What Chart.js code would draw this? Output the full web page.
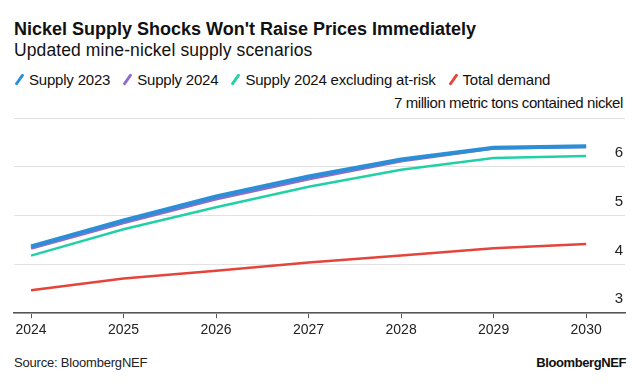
<!DOCTYPE html>
<html>
<head>
<meta charset="utf-8">
<script src="https://cdn.jsdelivr.net/npm/chart.js@4"></script>
<style>
  html, body { margin: 0; padding: 0; background: #fff; }
  body { width: 640px; height: 386px; position: relative; overflow: hidden; font-family: "Liberation Sans", Arial, sans-serif; color: #111; }
  .title { position: absolute; left: 14px; top: 19px; font-size: 18px; font-weight: bold; letter-spacing: 0px; }
  .sub { position: absolute; left: 14px; top: 40px; font-size: 17.5px; letter-spacing: 0.1px; }
  .legend { position: absolute; left: 14px; top: 71px; font-size: 15px; white-space: nowrap; }
  .legend span.it { display: inline-block; margin-right: 12px; letter-spacing: -0.2px; }
  .legend i { display: inline-block; width: 3px; height: 13px; border-radius: 1px; transform: rotate(35deg); margin: 0 8px 0 4px; vertical-align: -1px; }
  .unit { position: absolute; right: 17px; top: 94px; font-size: 15px; letter-spacing: -0.4px; }
  .src { position: absolute; left: 14px; top: 355px; font-size: 13px; color: #222; letter-spacing: -0.2px; }
  .brand { position: absolute; right: 14px; top: 355px; font-size: 13px; font-weight: bold; letter-spacing: -0.4px; }
  #wrap { position: absolute; left: 0; top: 100px; width: 640px; height: 243px; }
</style>
</head>
<body>
<div class="title">Nickel Supply Shocks Won't Raise Prices Immediately</div>
<div class="sub">Updated mine-nickel supply scenarios</div>
<div class="legend" id="legend"></div>
<div class="unit">7 million metric tons contained nickel</div>
<div id="wrap"><canvas id="c"></canvas></div>
<div class="src">Source: BloombergNEF</div>
<div class="brand">BloombergNEF</div>
<script>
const years = [2024, 2025, 2026, 2027, 2028, 2029, 2030];
const supply2023 = [4.37, 4.90, 5.39, 5.80, 6.15, 6.39, 6.42];
const supply2024 = [4.33, 4.85, 5.34, 5.75, 6.12, 6.38, 6.41];
const supply2024ExAtRisk = [4.18, 4.72, 5.17, 5.59, 5.94, 6.18, 6.22];
const totalDemand = [3.47, 3.71, 3.87, 4.04, 4.18, 4.33, 4.42];
const yTicks = [3, 4, 5, 6, 7];
const yLabels = ['3', '4', '5', '6', ''];   // 7 is in the unit line above

const series = [
  { label: 'Supply 2023', data: supply2023, color: '#2b8fd6', width: 4 },
  { label: 'Supply 2024', data: supply2024, color: '#8f6bd0', width: 3 },
  { label: 'Supply 2024 excluding at-risk', data: supply2024ExAtRisk, color: '#22d0a6', width: 2.5 },
  { label: 'Total demand', data: totalDemand, color: '#e4443a', width: 2.5 }
];

// legend in html
document.getElementById('legend').innerHTML = series.map(s =>
  '<span class="it"><i style="background:' + s.color + '"></i>' + s.label + '</span>').join('');

// draw order: blue on top of purple
const order = { 'Supply 2023': 0, 'Supply 2024': 1, 'Supply 2024 excluding at-risk': 2, 'Total demand': 3 };

// y labels sit inside the plot, right aligned, just above each gridline
const yLabelPlugin = {
  id: 'yLabels',
  afterDraw(chart) {
    const { ctx, scales: { x, y } } = chart;
    ctx.save();
    ctx.font = '15px "Liberation Sans", Arial, sans-serif';
    ctx.fillStyle = '#222';
    ctx.textAlign = 'right';
    ctx.textBaseline = 'middle';
    yTicks.forEach((v, i) => {
      if (yLabels[i]) ctx.fillText(yLabels[i], x.right - 2, y.getPixelForValue(v) - 14);
    });
    ctx.restore();
  }
};

new Chart(document.getElementById('c'), {
  type: 'line',
  data: {
    datasets: series.map(s => ({
      label: s.label,
      data: years.map((y, i) => ({ x: y, y: s.data[i] })),
      borderColor: s.color,
      borderWidth: s.width,
      pointRadius: 0,
      tension: 0,
      borderCapStyle: 'butt',
      order: order[s.label]
    }))
  },
  plugins: [yLabelPlugin],
  options: {
    responsive: true,
    maintainAspectRatio: false,
    animation: false,
    layout: { padding: { left: 14, right: 15, top: 18, bottom: 0 } },
    plugins: { legend: { display: false }, tooltip: { enabled: false } },
    scales: {
      x: {
        type: 'linear',
        min: 2023.816,
        max: 2030.42,
        afterBuildTicks: s => { s.ticks = years.map(v => ({ value: v })); },
        grid: { display: true, drawOnChartArea: false, drawTicks: true, tickLength: 5, color: '#555', tickWidth: 1 },
        border: { display: true, color: '#555', width: 1.5 },
        ticks: { color: '#222', font: { size: 14, family: 'Liberation Sans' }, padding: 4, maxRotation: 0, callback: v => String(v) }
      },
      y: {
        position: 'right',
        min: 3,
        max: 7,
        afterBuildTicks: s => { s.ticks = yTicks.map(v => ({ value: v })); },
        grid: { color: '#e2e2e2', lineWidth: 1, drawTicks: false },
        border: { display: false },
        ticks: { display: false }
      }
    }
  }
});
</script>
</body>
</html>
